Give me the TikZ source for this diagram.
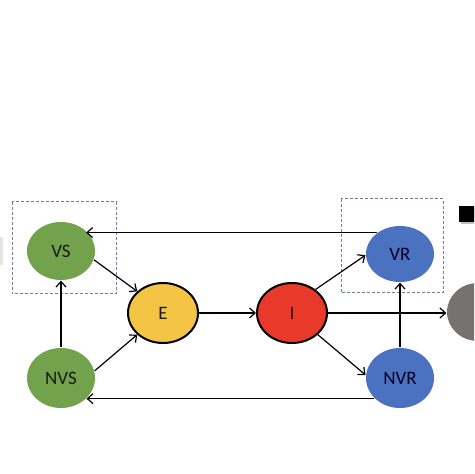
\documentclass[tikz,border=0pt]{standalone}
\usepackage{fontspec}
\setmainfont{Carlito}
\usetikzlibrary{
  shapes.geometric,
  arrows.meta
}
\definecolor{vsgreen}{HTML}{72A24B}
\definecolor{vrblue}{HTML}{4A72C0}
\definecolor{ered}{HTML}{E8392B}
\definecolor{eyellow}{HTML}{F4C444}
\definecolor{outgray}{HTML}{767272}
\definecolor{boxgray}{HTML}{6E7C98}
\tikzset{
  state/.style={
    ellipse, inner sep=0pt, text=black!90,
    minimum width=34pt, minimum height=29pt,
    font=\fontsize{9.5}{11}\selectfont
  },
  green state/.style={state, fill=vsgreen},
  blue state/.style={state, fill=vrblue, text=black!85!blue},
  ring state/.style={state, draw=black, line width=1pt, minimum width=35pt, minimum height=30pt},
  group box/.style={draw=boxgray, line width=0.5pt, dash pattern=on 1.5pt off 1pt}
}
\begin{document}
\begin{tikzpicture}[x=0.5pt,y=-0.5pt,line width=0.6pt,>={Straight Barb[length=2.8pt,width=5pt]}]
\useasboundingbox (0,0) rectangle (474,474);
\clip (0,0) rectangle (474,474);
\fill[black!10] (-10,237) rectangle (3,265);
\fill[black!25] (461,208) rectangle (482,224);
\fill[black] (459,206) rectangle (480,222);

\node[green state] (vs) at (61,251) {VS};
\node[green state, minimum height=30pt] (nvs) at (61,378) {NVS};
\node[ring state, fill=eyellow] (e) at (163,313) {E};
\node[ring state, fill=ered] (i) at (292,313) {I};
\node[blue state, minimum height=28pt] (vr) at (400,254) {VR};
\node[blue state, minimum height=30pt] (nvr) at (400,378) {NVR};
\node[state, fill=outgray, minimum width=31pt] (out) at (478,312) {};

\draw[group box] (12,202) rectangle (116,294);
\draw[group box] (341,199) rectangle (443,293);

\draw[->] (nvs) -- (vs);
\draw[->] (vs.-15) -- (e.140);
\draw[->] (nvs.12) -- (e.-140);
\draw[->] (e) -- (i);
\draw[->] (i.45) -- (vr.182);
\draw[->] (i.-40) -- (nvr.175);
\draw[->] (i.east) -- (i.east -| out.west);
\draw[->] (nvr) -- (vr);
\draw[->] (vr.137) -- (vr.137 -| vs.39);
\draw[->] (nvr.-141) -- (nvr.-141 -| nvs.-39);
\end{tikzpicture}
\end{document}
